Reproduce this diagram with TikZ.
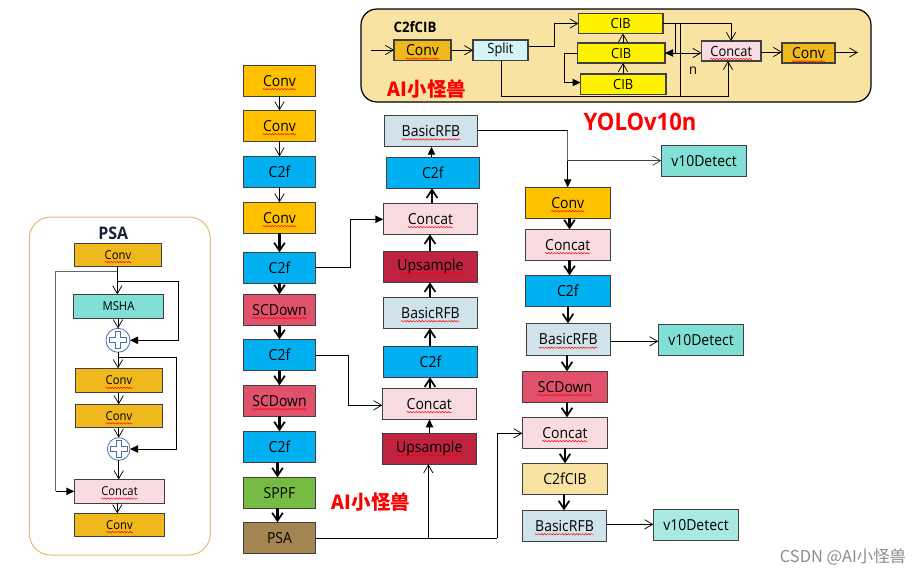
\documentclass[tikz,border=0pt]{standalone}
\usepackage{fontspec}
\setmainfont{Open Sans}[FakeStretch=0.92]
\newfontfamily\cjk{Noto Sans CJK SC}
\usetikzlibrary{arrows.meta,calc,decorations.pathmorphing}
\definecolor{cConv}{HTML}{FFC000}
\definecolor{cCtf}{HTML}{00B0F0}
\definecolor{cSCD}{HTML}{E0526C}
\definecolor{cUp}{HTML}{C0233F}
\definecolor{cCon}{HTML}{F8DCE2}
\definecolor{cRFB}{HTML}{D0E3EA}
\definecolor{cSPPF}{HTML}{76BC44}
\definecolor{cPSA}{HTML}{A28550}
\definecolor{cDet}{HTML}{80E0D6}
\definecolor{cDetb}{HTML}{A8EAE2}
\definecolor{cCIB}{HTML}{F9E3A2}
\definecolor{cGold}{HTML}{EFB91D}
\definecolor{cSplit}{HTML}{D4F4F6}
\definecolor{cEdge}{HTML}{404040}
\definecolor{cTan}{HTML}{E0BC7A}
\definecolor{cNavy}{HTML}{1A2238}
\definecolor{cPlus}{HTML}{4A6FB0}
\gdef\sqw{}
\newcommand\sq[1]{\setbox0\hbox{#1}\xdef\sqw{\the\wd0}\box0 }
% name x1 y1 x2 y2 fill font text
\newcommand\bx[8]{%
  \pgfmathsetmacro\bw{(#4-#2)*0.75}\pgfmathsetmacro\bh{(#5-#3)*0.75}%
  \node[boxnode,fill=#6,minimum width=\bw pt,minimum height=\bh pt,font=#7] (#1) at ({(#2+#4)/2},{(#3+#5)/2}) {#8};%
  \ifx\sqw\empty\else
    \draw[squiggle] ([xshift=-0.5*\sqw,yshift=-2.2pt]#1.base) -- ([xshift=0.5*\sqw,yshift=-2.2pt]#1.base);%
    \gdef\sqw{}%
  \fi}
\tikzset{
  x=0.75pt,y=-0.75pt,
  boxnode/.style={draw=cEdge,line width=0.9pt,inner sep=0pt,outer sep=0pt,text=black,anchor=center},
  squiggle/.style={draw=red,line width=0.35pt,decorate,decoration={zigzag,amplitude=0.55pt,segment length=2.2pt}},
  wire/.style={line width=0.75pt,black},
  barb/.style={wire,-{Straight Barb[length=6pt,width=7pt,line width=0.55pt]}},
  bold/.style={line width=1.6pt,black,-{Straight Barb[length=6pt,width=8pt,line width=1.3pt]}},
  tri/.style={wire,-{Triangle[length=6pt,width=5.5pt]}},
  redlabel/.style={text=red,font=\cjk\bfseries\fontsize{14.6}{15}\selectfont},
  plusnode/.style={circle,draw=cPlus,line width=0.6pt,fill=white,inner sep=0pt,outer sep=0pt,minimum size=#1},
}
\newcommand\ft{\fontsize{11.4}{13}\selectfont}
\newcommand\fs{\fontsize{10.5}{12}\selectfont}
\newcommand\fx{\fontsize{9.2}{11}\selectfont}
\newcommand\plusmark[1]{%
  \draw[cPlus,line width=0.6pt,fill=white] ($(#1)+(-2.5,-8.5)$) -- ++(5,0) -- ++(0,6) -- ++(6,0) -- ++(0,5) -- ++(-6,0) -- ++(0,6) -- ++(-5,0) -- ++(0,-6) -- ++(-6,0) -- ++(0,-5) -- ++(6,0) -- cycle;}
\begin{document}
\begin{tikzpicture}
\useasboundingbox (0,0) rectangle (922,575);
\fill[white] (0,0) rectangle (922,575);

% ---------- C2fCIB panel
\node[draw=black,line width=0.9pt,fill=cCIB,rounded corners=12pt,inner sep=0pt,outer sep=0pt,minimum width=382.5pt,minimum height=69.75pt] (panelA) at (616,55.5) {};
\node[font=\bfseries\fontsize{10.8}{12}\selectfont] (tA) at (415,27) {C2fCIB};
\node[redlabel] (aiA) at (427,89) {AI小怪兽};
\coordinate (inA) at (371,50);
\coordinate (outA) at (858,52.5);
\bx{aconv}{394}{40}{451}{60.5}{cGold}{\ft}{\sq{Conv}}
\bx{split}{473}{40}{528}{60.5}{cSplit}{\fs}{Split}
\bx{cibt}{578.5}{13.5}{663}{33.5}{yellow}{\fs}{CIB}
\bx{cibm}{577.5}{43}{665}{63}{yellow}{\fs}{CIB}
\bx{cibb}{580.5}{74}{666}{94.5}{yellow}{\fs}{CIB}
\bx{acon}{701.5}{41}{761}{61}{cCon}{\fs}{\sq{Concat}}
\bx{aconv2}{782}{43}{835}{63}{cGold}{\ft}{\sq{Conv}}
\node[font=\fs] (nlab) at (693,71) {n};
\draw[barb] (inA) -- (aconv.west |- inA);
\draw[barb] (aconv.east) -- (split.west);
\draw[barb] (528,46) -- (554.5,46) |- (cibt.west);
\draw[barb] (cibt.east) -- (731,23.5) -- (731,41);
\draw[wire] (675,23.5) -- (675,53);
\draw[tri] (675,53) -- (665,53);
\draw[barb] (665,53) -- (acon.west |- 0,53);
\draw[wire] (680,23.5) -- (680,96);
\draw[barb] (501,60.5) -- (501,96) -- (728,96) -- (728,61);
\draw[barb] (623,74) -- (623,63);
\draw[barb] (623,43) -- (623,33.5);
\draw[wire] (577.5,53) -- (564.6,53) -- (564.6,82.5);
\draw[tri] (564.6,82.5) -- (580.5,82.5);
\draw[barb] (acon.east |- 0,52) -- (aconv2.west |- 0,52);
\draw[barb] (aconv2.east |- outA) -- (outA);

% ---------- PSA panel
\node[draw=cTan,line width=0.75pt,fill=white,rounded corners=16pt,inner sep=0pt,outer sep=0pt,minimum width=135.75pt,minimum height=253.5pt] (panelB) at (119.8,386) {};
\node[text=cNavy,font=\bfseries\fontsize{13}{15}\selectfont] (tB) at (113.3,233) {PSA};
\bx{pconva}{74.3}{243.3}{161.7}{266.3}{cGold}{\fx}{\sq{Conv}}
\bx{msha}{73.3}{294.3}{163.7}{318.3}{cDet}{\fx}{MSHA}
\node[plusnode=18pt] (plusa) at (118,340.3) {};
\plusmark{plusa}
\bx{pconvb}{75.3}{368.3}{162.7}{392.7}{cGold}{\fx}{\sq{Conv}}
\bx{pconvc}{75.3}{404.3}{162.7}{427.7}{cGold}{\fx}{\sq{Conv}}
\node[plusnode=17pt] (plusb) at (118.7,449) {};
\plusmark{plusb}
\bx{pcon}{74.3}{479.3}{164.7}{503.3}{cCon}{\fx}{\sq{Concat}}
\bx{pconvd}{74.3}{513.3}{164.7}{536.3}{cGold}{\fx}{\sq{Conv}}
\coordinate (pj1) at (117.3,271.7);
\coordinate (pj2) at (117.3,281.7);
\coordinate (pj3) at (118,357.7);
\draw[barb] (pconva.south -| pj1) -- (pj1 |- msha.north);
\draw[wire,black!60,line width=0.9pt] (pj1) -- (55.7,271.7) -- (55.7,491.3);
\draw[tri] (55.7,491.3) -- (pcon.west);
\draw[wire] (pj2) -- (178.7,281.7) -- (178.7,340.3);
\draw[tri] (178.7,340.3) -- (plusa.east);
\draw[barb] (msha.south -| plusa) -- (plusa.north);
\draw[barb] (plusa.south) -- (plusa |- pconvb.north);
\draw[wire] (pj3) -- (176.7,357.7) -- (176.7,449);
\draw[tri] (176.7,449) -- (plusb.east);
\draw[barb] (pconvb.south -| plusb) -- (plusb |- pconvc.north);
\draw[barb] (pconvc.south -| plusb) -- (plusb.north);
\draw[barb] (plusb.south) -- (plusb |- pcon.north);
\draw[barb] (pcon.south -| 117.3,0) -- (pconvd.north -| 117.3,0);

% ---------- column 1
\bx{a1}{243.5}{65.3}{315.5}{96.3}{cConv}{\ft}{\sq{Conv}}
\bx{a2}{243.5}{110.3}{315.5}{141.3}{cConv}{\ft}{\sq{Conv}}
\bx{a3}{243.5}{156.3}{315.5}{187.3}{cCtf}{\ft}{C2f}
\bx{a4}{243.5}{202.3}{315.5}{233.3}{cConv}{\ft}{\sq{Conv}}
\bx{a5}{243.5}{252.3}{315.5}{283.3}{cCtf}{\ft}{C2f}
\bx{a6}{243.5}{294.3}{315.5}{325.3}{cSCD}{\ft}{\sq{SCDown}}
\bx{a7}{243.5}{339.3}{315.5}{370.3}{cCtf}{\ft}{C2f}
\bx{a8}{243.5}{385.3}{315.5}{416.3}{cSCD}{\ft}{\sq{SCDown}}
\bx{a9}{243.5}{431.3}{315.5}{462.3}{cCtf}{\ft}{C2f}
\bx{a10}{243.5}{477.3}{315.5}{508.3}{cSPPF}{\ft}{SPPF}
\bx{a11}{243.5}{522.3}{315.5}{553.3}{cPSA}{\ft}{PSA}
\draw[barb] (a1) -- (a2);
\draw[barb] (a2) -- (a3);
\draw[barb] (a3) -- (a4);
\draw[bold] (a4) -- (a5);
\draw[bold] (a5) -- (a6);
\draw[bold] (a6) -- (a7);
\draw[bold] (a7) -- (a8);
\draw[bold] (a8) -- (a9);
\draw[bold] ([xshift=-1.5pt]a9.south) -- ([xshift=-1.5pt]a10.north);
\draw[bold] ([xshift=-1.5pt]a10.south) -- ([xshift=-1.5pt]a11.north);

% ---------- column 2
\bx{b1}{384.3}{115.3}{477.7}{146.7}{cRFB}{\ft}{\sq{BasicRFB}}
\bx{b2}{386.3}{157.3}{479.3}{188.3}{cCtf}{\ft}{C2f}
\bx{b3}{383.3}{203.3}{477.7}{234.3}{cCon}{\ft}{\sq{Concat}}
\bx{b4}{383.3}{251.3}{477.7}{282.3}{cUp}{\ft}{\sq{Upsample}}
\bx{b5}{383.3}{297.3}{477.7}{328.3}{cRFB}{\ft}{\sq{BasicRFB}}
\bx{b6}{383.3}{346.3}{477.7}{377.3}{cCtf}{\ft}{C2f}
\bx{b7}{382.3}{388.3}{476.3}{419.3}{cCon}{\ft}{\sq{Concat}}
\bx{b8}{382.3}{433.3}{476.3}{464.3}{cUp}{\ft}{\sq{Upsample}}
\draw[tri] (b8.north -| 429.5,0) -- (b7.south -| 429.5,0);
\draw[bold] (b7.north -| 430,0) -- (b6.south -| 430,0);
\draw[bold] (b6.north -| 430,0) -- (b5.south -| 430,0);
\draw[bold] (b5.north -| 430,0) -- (b4.south -| 430,0);
\draw[bold] (b4.north -| 430,0) -- (b3.south -| 430,0);
\draw[bold] (b3.north -| 432,0) -- (b2.south -| 432,0);
\draw[tri] (b2.north -| 431.5,0) -- (b1.south -| 431.5,0);

% ---------- column 3
\bx{c1}{525.3}{187.3}{610.3}{218.3}{cConv}{\ft}{\sq{Conv}}
\bx{c2}{525.3}{229.3}{610.3}{260.3}{cCon}{\ft}{\sq{Concat}}
\bx{c3}{525.3}{275.3}{610.3}{306.3}{cCtf}{\ft}{C2f}
\bx{c4}{526.3}{323.3}{610.3}{355.3}{cRFB}{\ft}{\sq{BasicRFB}}
\bx{c5}{522.3}{371.3}{607.7}{402.3}{cSCD}{\ft}{\sq{SCDown}}
\bx{c6}{522.3}{417.3}{607.7}{448.3}{cCon}{\ft}{\sq{Concat}}
\bx{c7}{522.3}{463.3}{607.7}{494.3}{cCIB}{\ft}{C2fCIB}
\bx{c8}{522.3}{510.3}{606.7}{541.3}{cRFB}{\ft}{\sq{BasicRFB}}
\bx{d1}{661.3}{145.3}{746.7}{176.3}{cDet}{\ft}{v10Detect}
\bx{d2}{658.3}{324.3}{743.7}{355.3}{cDet}{\ft}{v10Detect}
\bx{d3}{653.3}{509.3}{738.7}{540.3}{cDetb}{\ft}{v10Detect}
\draw[bold] (c1.south -| 569.5,0) -- (c2.north -| 569.5,0);
\draw[bold] (c2.south -| 569.5,0) -- (c3.north -| 569.5,0);
\draw[bold] (c3.south -| 568,0) -- (c4.north -| 568,0);
\draw[bold] (c4.south -| 567,0) -- (c5.north -| 567,0);
\draw[bold] (c5.south -| 567,0) -- (c6.north -| 567,0);
\draw[bold] (c6.south -| 565,0) -- (c7.north -| 565,0);
\draw[bold] (c7.south -| 564,0) -- (c8.north -| 564,0);
\draw[barb] (c4.east |- 0,341.3) -- (d2.west |- 0,341.3);
\draw[barb] (c8.east |- 0,524.3) -- (d3.west |- 0,524.3);

% ---------- cross connections
\draw[wire] (b1.east |- 0,130.7) -- (567.7,130.7);
\draw[wire,line width=1pt,black!60] (567.7,130.7) -- (567.7,160.7);
\draw[tri] (567.7,160.7) -- (567.7,187.3);
\coordinate (j1) at (567.7,160.7);
\draw[barb,black!75] (j1) -- (d1.west |- j1);
\draw[tri] (a5.east |- 0,267.7) -- (350,267.7) -- (350,219.3) -- (b3.west |- 0,219.3);
\draw[barb] (a7.east |- 0,355.3) -- (348.7,355.3) -- (348.7,405.3) -- (b7.west |- 0,405.3);
\draw[wire] (a11.east |- 0,538) -- (497,538);
\draw[barb] (497,538) -- (497,433.3) -- (c6.west |- 0,433.3);
\draw[barb] (428.3,538) -- (428.3,464.3);

% ---------- labels
\node[text=red,font=\bfseries\fontsize{18}{20}\selectfont] (title) at (640,122) {YOLOv10n};
\node[redlabel] (aiB) at (371,502) {AI小怪兽};
\node[text=black!45,font=\cjk\fontsize{12.3}{14}\selectfont] (mark) at (843,557) {CSDN @AI小怪兽};
\end{tikzpicture}
\end{document}
